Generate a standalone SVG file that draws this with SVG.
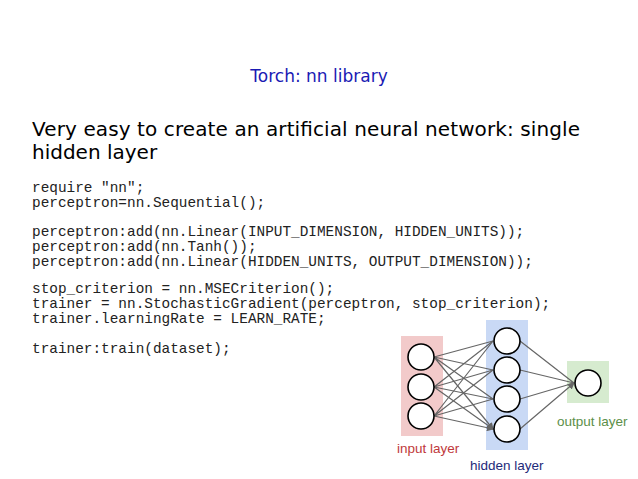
<svg xmlns="http://www.w3.org/2000/svg" width="638" height="479" viewBox="0 0 638 479">
<defs>
<style>
.code{font-family:"Liberation Mono",monospace;font-size:14.4px;fill:#222}
.n{fill:#fff;stroke:#000;stroke-width:1.6}
.e{stroke:#666;stroke-width:1.2;fill:none;marker-end:url(#a)}
.lbl{font-family:"Liberation Sans",Arial,sans-serif;font-size:13.5px}
</style>
<marker id="a" markerWidth="7" markerHeight="7" refX="6" refY="3.5" orient="auto" markerUnits="userSpaceOnUse"><path d="M0,0L7,3.5L0,7z" fill="#666"/></marker>
</defs>
<rect width="638" height="479" fill="#fff"/>
<text x="319" y="82" text-anchor="middle" font-family="DejaVu Sans,sans-serif" font-size="17" fill="#1a1ab4">Torch: nn library</text>
<text font-family="DejaVu Sans,sans-serif" font-size="20" fill="#000"><tspan x="32" y="136" textLength="548">Very easy to create an artificial neural network: single</tspan><tspan x="32" y="159">hidden layer</tspan></text>
<g class="code">
<text x="32" y="192">require "nn";</text>
<text x="32" y="207">perceptron=nn.Sequential();</text>
<text x="32" y="236">perceptron:add(nn.Linear(INPUT_DIMENSION, HIDDEN_UNITS));</text>
<text x="32" y="251">perceptron:add(nn.Tanh());</text>
<text x="32" y="266">perceptron:add(nn.Linear(HIDDEN_UNITS, OUTPUT_DIMENSION));</text>
<text x="32" y="293">stop_criterion = nn.MSECriterion();</text>
<text x="32" y="308">trainer = nn.StochasticGradient(perceptron, stop_criterion);</text>
<text x="32" y="323">trainer.learningRate = LEARN_RATE;</text>
<text x="32" y="353">trainer:train(dataset);</text>
</g>
<g id="layers">
<rect x="401" y="336" width="42" height="100" fill="#f2caca"/>
<rect x="486" y="320" width="42" height="130" fill="#c9d9f5"/>
<rect x="567" y="361" width="42" height="42" fill="#d6ebcf"/>
</g>
<g id="connectors">
<path class="e" d="M434,357L493,341M434,357L493,370M434,357L493,399M434,357L493,429"/>
<path class="e" d="M434,387L493,341M434,387L493,370M434,387L493,399M434,387L493,429"/>
<path class="e" d="M434,416L493,341M434,416L493,370M434,416L493,399M434,416L493,429"/>
<path class="e" d="M520,341L574,383M520,370L574,383M520,399L574,383M520,429L574,383"/>
</g>
<g id="input"><circle class="n" cx="421" cy="357" r="13"/><circle class="n" cx="421" cy="387" r="13"/><circle class="n" cx="421" cy="416" r="13"/></g>
<g id="hidden"><circle class="n" cx="507" cy="341" r="13"/><circle class="n" cx="507" cy="370" r="13"/><circle class="n" cx="507" cy="399" r="13"/><circle class="n" cx="507" cy="429" r="13"/></g>
<g id="output"><circle class="n" cx="588" cy="383" r="13"/></g>
<text class="lbl" x="397" y="453" fill="#c0393b">input layer</text>
<text class="lbl" x="470" y="470" fill="#1e2a7a">hidden layer</text>
<text class="lbl" x="557" y="426" fill="#5c8f49">output layer</text>
</svg>
